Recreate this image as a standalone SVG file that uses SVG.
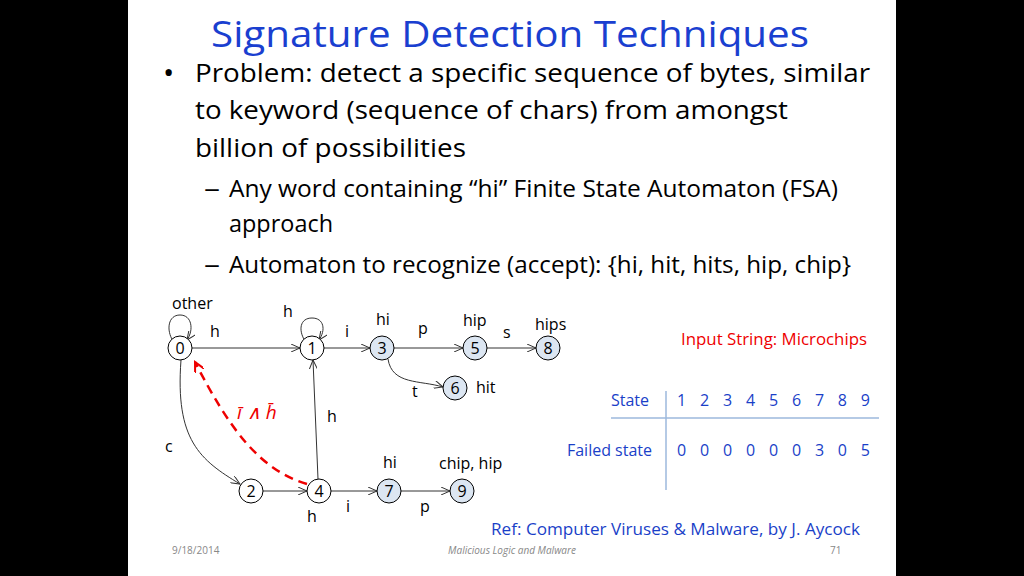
<svg xmlns="http://www.w3.org/2000/svg" width="1024" height="576" viewBox="0 0 1024 576">
<style>
text{font-family:"Open Sans","Noto Sans",sans-serif}
.b{font-size:25px;fill:#000}
.s{font-size:23px;fill:#000}
.l{font-size:16px;fill:#000}
.n circle{stroke:#000;stroke-width:1;fill:#fff}
.n.a circle{fill:#dce6f2}
.n text{font-size:16px;text-anchor:middle;fill:#000}
.e{stroke:#333;stroke-width:1;fill:none;marker-end:url(#ar)}
.t{font-size:16px;fill:#1a3fc8}
</style>
<defs>
<marker id="ar" markerWidth="10" markerHeight="8" refX="9" refY="4" orient="auto" markerUnits="userSpaceOnUse"><path d="M0,0 L9,4 L0,8" fill="none" stroke="#333"/></marker>
<marker id="rr" markerWidth="12" markerHeight="10" refX="10" refY="5" orient="auto" markerUnits="userSpaceOnUse"><path d="M0,0 L10,5 L0,10" fill="none" stroke="#e00" stroke-width="2"/></marker>
</defs>
<rect width="1024" height="576" fill="#000"/>
<rect x="128" width="768" height="576" fill="#fff"/>
<text x="510" y="47" text-anchor="middle" font-size="37" fill="#1a3fd0" textLength="598" lengthAdjust="spacingAndGlyphs">Signature Detection Techniques</text>
<text x="163" y="83" font-size="30">•</text>
<text x="195" y="82" class="b" textLength="675" lengthAdjust="spacingAndGlyphs">Problem: detect a specific sequence of bytes, similar</text>
<text x="195" y="119" class="b" textLength="593" lengthAdjust="spacingAndGlyphs">to keyword (sequence of chars) from amongst</text>
<text x="195" y="157" class="b" textLength="271" lengthAdjust="spacingAndGlyphs">billion of possibilities</text>
<text x="204" y="197" class="s" textLength="16" lengthAdjust="spacingAndGlyphs">–</text>
<text x="229" y="197" class="s" textLength="609" lengthAdjust="spacingAndGlyphs">Any word containing “hi” Finite State Automaton (FSA)</text>
<text x="229" y="232" class="s" textLength="104" lengthAdjust="spacingAndGlyphs">approach</text>
<text x="204" y="273" class="s" textLength="16" lengthAdjust="spacingAndGlyphs">–</text>
<text x="229" y="273" class="s" textLength="622" lengthAdjust="spacingAndGlyphs">Automaton to recognize (accept): {hi, hit, hits, hip, chip}</text>
<g id="connectors">
<path class="e" d="M173,341 C166,330 168,315 180,315 C192,315 194,330 187,340"/>
<path class="e" d="M305,341 C298,330 300,318 312,318 C324,318 326,330 319,340"/>
<path class="e" d="M192,348 L300,348"/>
<path class="e" d="M324,348 L370,348"/>
<path class="e" d="M394,348 L463,348"/>
<path class="e" d="M487,348 L536,348"/>
<path class="e" d="M388,359 C392,385 420,380 443,387"/>
<path class="e" d="M181,360 C175,440 200,460 240,484"/>
<path class="e" d="M263,491 L307,491"/>
<path class="e" d="M318,479 L313,360"/>
<path class="e" d="M331,491 L377,491"/>
<path class="e" d="M401,491 L450,491"/>
<path d="M307,484 C260,470 230,430 195,362" fill="none" stroke="#e00" stroke-width="2.5" stroke-dasharray="9,6" marker-end="url(#rr)"/>
</g>
<g id="labels">
<text x="172" y="309" class="l">other</text>
<text x="210" y="337" class="l">h</text>
<text x="283" y="317" class="l">h</text>
<text x="345" y="337" class="l">i</text>
<text x="376" y="325" class="l">hi</text>
<text x="418" y="334" class="l">p</text>
<text x="463" y="326" class="l">hip</text>
<text x="503" y="338" class="l">s</text>
<text x="535" y="330" class="l">hips</text>
<text x="412" y="397" class="l">t</text>
<text x="476" y="393" class="l">hit</text>
<text x="327" y="422" class="l">h</text>
<text x="165" y="452" class="l">c</text>
<text x="383" y="468" class="l">hi</text>
<text x="439" y="469" class="l">chip, hip</text>
<text x="346" y="512" class="l">i</text>
<text x="420" y="512" class="l">p</text>
<text x="307" y="522" class="l">h</text>
<text x="237" y="419" font-family="Liberation Serif,serif" font-style="italic" font-size="19" fill="#e00">ī ∧ h̄</text>
</g>
<g id="n0" class="n"><circle cx="180" cy="348" r="12"/><text x="180" y="354">0</text></g>
<g id="n1" class="n"><circle cx="312" cy="348" r="12"/><text x="312" y="354">1</text></g>
<g id="n3" class="n a"><circle cx="382" cy="348" r="12"/><text x="382" y="354">3</text></g>
<g id="n5" class="n a"><circle cx="475" cy="348" r="12"/><text x="475" y="354">5</text></g>
<g id="n8" class="n a"><circle cx="548" cy="348" r="12"/><text x="548" y="354">8</text></g>
<g id="n6" class="n a"><circle cx="455" cy="388" r="12"/><text x="455" y="394">6</text></g>
<g id="n2" class="n"><circle cx="251" cy="491" r="12"/><text x="251" y="497">2</text></g>
<g id="n4" class="n"><circle cx="319" cy="491" r="12"/><text x="319" y="497">4</text></g>
<g id="n7" class="n a"><circle cx="389" cy="491" r="12"/><text x="389" y="497">7</text></g>
<g id="n9" class="n a"><circle cx="462" cy="491" r="12"/><text x="462" y="497">9</text></g>
<text x="681" y="345" font-size="16" fill="#e00" textLength="186" lengthAdjust="spacingAndGlyphs">Input String: Microchips</text>
<g id="table">
<line x1="666" y1="391" x2="666" y2="490" stroke="#9db8dc" stroke-width="1.5"/>
<line x1="611" y1="418" x2="879" y2="418" stroke="#9db8dc" stroke-width="1.5"/>
<text x="649" y="406" class="t" text-anchor="end">State</text>
<text x="652" y="456" class="t" text-anchor="end">Failed state</text>
<text x="677" y="406" class="t" textLength="193" lengthAdjust="spacing">1 2 3 4 5 6 7 8 9</text>
<text x="677" y="456" class="t" textLength="193" lengthAdjust="spacing">0 0 0 0 0 0 3 0 5</text>
</g>
<text x="491" y="535" font-size="16" fill="#1a3fc8" textLength="369" lengthAdjust="spacingAndGlyphs">Ref:  Computer Viruses &amp; Malware, by J. Aycock</text>
<text x="172" y="554" font-size="10" fill="#888">9/18/2014</text>
<text x="512" y="554" font-size="10" fill="#888" font-style="italic" text-anchor="middle">Malicious Logic and Malware</text>
<text x="830" y="554" font-size="10" fill="#888">71</text>
</svg>
